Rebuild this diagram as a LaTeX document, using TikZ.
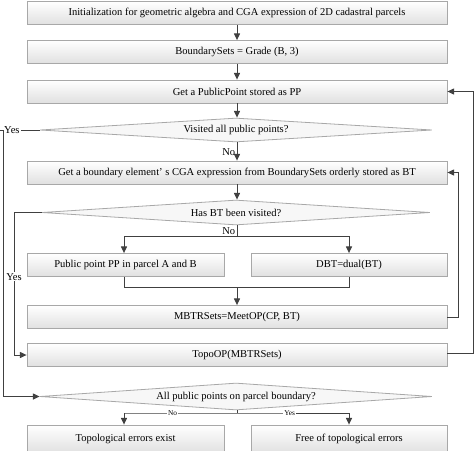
\documentclass[tikz,border=0pt]{standalone}
\usepackage{fontspec}
\setmainfont{Liberation Serif}
\usetikzlibrary{shapes.geometric,arrows.meta}
\definecolor{ln}{HTML}{404040}
\definecolor{bd}{HTML}{A8A8A8}
\tikzset{
  procbox/.style={draw=bd,line width=0.6pt,top color=white,bottom color=black!12,
    minimum width=420*0.75pt,minimum height=23*0.75pt,inner sep=0pt,font=\fontsize{7.9}{9}\selectfont},
  halfbox/.style={procbox,minimum width=197*0.75pt},
  decide/.style={draw=bd,line width=0.6pt,fill=black!3,diamond,aspect=16,inner sep=0pt,
    minimum width=392*0.75pt,minimum height=24*0.75pt,font=\fontsize{7.9}{9}\selectfont},
  conn/.style={draw=ln,line width=0.75pt},
  arr/.style={conn,-{Triangle[length=5pt,width=4.5pt]}},
  lab/.style={font=\fontsize{7.9}{9}\selectfont,inner sep=1pt},
  slab/.style={font=\fontsize{5.5}{6}\selectfont,inner sep=0.8pt,fill=white},
}
\begin{document}
\begin{tikzpicture}[x=0.75pt,y=-0.75pt]
\useasboundingbox[fill=white] (0,0) rectangle (474,450);
\node[procbox] (b1) at (237,13) {Initialization for geometric algebra and CGA expression of 2D cadastral parcels};
\node[procbox] (b2) at (237,52) {BoundarySets = Grade (B, 3)};
\node[procbox] (b3) at (237,91.5) {Get a PublicPoint stored as PP};
\node[decide] (d1) at (236,130) {Visited all public points?};
\node[procbox] (b4) at (237,172.5) {Get a boundary element’ s CGA expression from BoundarySets orderly stored as BT};
\node[decide,minimum width=388*0.75pt,minimum height=25*0.75pt] (d2) at (236,212.5) {Has BT been visited?};
\node[halfbox] (b5a) at (125.5,265) {Public point PP in parcel A and B};
\node[halfbox,minimum width=196*0.75pt] (b5b) at (349,265) {DBT=dual(BT)};
\node[procbox] (b6) at (237,317) {MBTRSets=MeetOP(CP, BT)};
\node[procbox] (b7) at (237,355) {TopoOP(MBTRSets)};
\node[decide,minimum height=27*0.75pt] (d3) at (236,396.5) {All public points on parcel boundary?};
\node[halfbox,minimum height=28*0.75pt] (b8a) at (125.5,439) {Topological errors exist};
\node[halfbox,minimum width=196*0.75pt,minimum height=28*0.75pt] (b8b) at (349,439) {Free of topological errors};
\coordinate (c1) at (3,130);
\coordinate (c2) at (3,396.5);
\coordinate (c3) at (14,212.5);
\coordinate (c4) at (14,355);
\coordinate (s2) at (237,236);
\coordinate (s2a) at (124,236);
\coordinate (s2b) at (349,236);
\coordinate (m5a) at (124,287);
\coordinate (m5) at (237,287);
\coordinate (m5b) at (349,287);
\coordinate (r6) at (458,317);
\coordinate (r4) at (458,172.5);
\coordinate (r7) at (473,353);
\coordinate (r3) at (473,91.5);
\coordinate (s3) at (237,413);
\coordinate (s3a) at (124,413);
\coordinate (s3b) at (349,413);
% main flow
\draw[arr] (b1) -- (b2);
\draw[arr] (b2) -- (b3);
\draw[arr] (b3) -- (b3 |- d1.north);
\draw[arr] (d1.south -| b4) -- node[lab,pos=0.55,left] {No} (b4);
\draw[arr] (b4) -- (b4.south |- d2.north);
% Yes from d1
\draw[conn] (d1.west) -- node[lab,pos=0.7,fill=white] {Yes} (0,130);
\draw[arr] (c1) -- (c2) -- (d3.west);
% d2 branches
\draw[conn] (d2.south -| s2) -- node[lab,pos=0.55,left] {No} (s2);
\draw[conn] (s2a) -- (s2b);
\draw[arr] (s2a) -- (b5a.north -| s2a);
\draw[arr] (s2b) -- (b5b.north -| s2b);
\draw[arr] (d2.west) -- (c3) -- node[lab,pos=0.45,fill=white] {Yes} (c4) -- (b7.west);
% merge
\draw[conn] (b5a.south -| m5a) -- (m5a) -- (m5b) -- (b5b.south -| m5b);
\draw[arr] (m5) -- (b6);
% loops
\draw[arr] (b6.east) -- (r6) -- (r4) -- (b4.east);
\draw[arr] (b7.east |- r7) -- (r7) -- (r3) -- (b3.east);
% final decision
\draw[conn] (d3.south -| s3) -- (s3);
\draw[conn] (s3a) -- node[slab,pos=0.43] {No} (s3) -- node[slab,pos=0.47] {Yes} (s3b);
\draw[arr] (s3a) -- (b8a.north -| s3a);
\draw[arr] (s3b) -- (b8b.north -| s3b);
\end{tikzpicture}
\end{document}
